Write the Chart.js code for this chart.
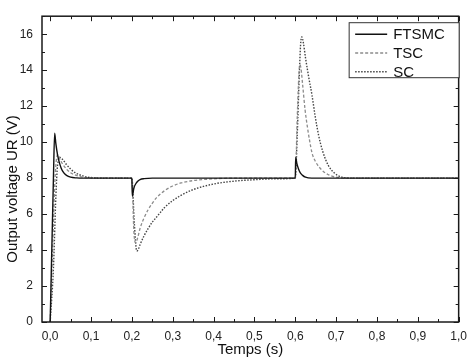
<!DOCTYPE html>
<html>
<head>
<meta charset="utf-8">
<script src="https://cdn.jsdelivr.net/npm/chart.js@4.4.1/dist/chart.umd.min.js"></script>
<style>
  html, body { margin: 0; padding: 0; background: #fff; }
  #wrap { width: 474px; height: 362px; }
</style>
</head>
<body>
<div id="wrap"><canvas id="chart" width="474" height="362"></canvas></div>
<script>
// --- data ---
const seriesLabels = ['FTSMC', 'TSC', 'SC'];

const ftsmcTime = [0, 0.008, 0.011, 0.014, 0.018, 0.022, 0.027, 0.033, 0.04, 0.05, 0.065, 0.08,
  0.2, 0.201, 0.205, 0.21, 0.215, 0.22, 0.23, 0.25,
  0.6, 0.601, 0.604, 0.608, 0.612, 0.618, 0.625, 0.64, 1.0];
const ftsmcVolt = [0, 8.0, 10.5, 9.9, 9.3, 8.9, 8.55, 8.3, 8.15, 8.05, 8.01, 8.0,
  8.0, 7.0, 7.45, 7.7, 7.84, 7.92, 7.97, 8.0,
  8.0, 9.15, 8.8, 8.5, 8.3, 8.15, 8.05, 8.0, 8.0];

const tscTime = [0, 0.006, 0.012, 0.018, 0.025, 0.03, 0.04, 0.05, 0.06, 0.07, 0.08, 0.1,
  0.2, 0.205, 0.209, 0.215, 0.22, 0.23, 0.24, 0.25, 0.26, 0.28, 0.3, 0.32, 0.35, 0.4, 0.45,
  0.6, 0.605, 0.609, 0.611, 0.614, 0.618, 0.624, 0.63, 0.635, 0.641, 0.65, 0.665, 0.68, 0.7, 0.72, 1.0];
const tscVolt = [0, 4.0, 8.0, 9.3, 9.0, 8.8, 8.5, 8.3, 8.18, 8.1, 8.05, 8.01,
  8.0, 5.0, 4.4, 4.75, 5.2, 5.8, 6.25, 6.6, 6.9, 7.3, 7.56, 7.73, 7.86, 7.96, 8.0,
  8.0, 11.5, 13.8, 14.3, 14.1, 13.2, 11.8, 10.8, 10.1, 9.4, 8.9, 8.45, 8.2, 8.05, 8.0, 8.0];

const scTime = [0, 0.008, 0.014, 0.018, 0.024, 0.03, 0.04, 0.05, 0.06, 0.07, 0.08, 0.09, 0.1, 0.12,
  0.2, 0.206, 0.212, 0.216, 0.22, 0.23, 0.24, 0.25, 0.26, 0.28, 0.3, 0.32, 0.35, 0.4, 0.45, 0.5, 0.55,
  0.6, 0.605, 0.61, 0.613, 0.616, 0.62, 0.625, 0.633, 0.641, 0.649, 0.657, 0.667, 0.681, 0.695, 0.714, 0.74, 1.0];
const scVolt = [0, 3.0, 7.0, 8.7, 9.15, 9.05, 8.75, 8.5, 8.32, 8.2, 8.12, 8.06, 8.03, 8.0,
  8.0, 5.5, 3.95, 4.05, 4.3, 4.8, 5.2, 5.55, 5.82, 6.36, 6.75, 7.04, 7.36, 7.67, 7.83, 7.91, 7.96,
  8.0, 10.5, 13.8, 15.4, 15.85, 15.5, 14.7, 13.6, 12.6, 11.4, 10.4, 9.5, 8.7, 8.3, 8.05, 8.0, 8.0];

const xTickValues = [0, 0.1, 0.2, 0.3, 0.4, 0.5, 0.6, 0.7, 0.8, 0.9, 1.0];
const yTickValues = [0, 2, 4, 6, 8, 10, 12, 14, 16];

const FONT = '"Liberation Sans", Arial, sans-serif';
const AXIS_INK = '#1a1a1a';

function toPoints(xs, ys) {
  return xs.map((x, i) => ({ x, y: ys[i] }));
}

// frame + inward major/minor ticks on all four sides (Origin style)
const frameTicks = {
  id: 'frameTicks',
  afterDatasetsDraw(chart) {
    const { ctx, chartArea: a, scales: { x, y } } = chart;
    ctx.save();
    ctx.strokeStyle = AXIS_INK;
    ctx.lineWidth = 1;
    ctx.beginPath();
    const tick = (px, py, dx, dy) => { ctx.moveTo(px, py); ctx.lineTo(px + dx, py + dy); };
    xTickValues.forEach((v, i) => {
      const px = Math.round(x.getPixelForValue(v)) + 0.5;
      tick(px, a.bottom, 0, -5);
      tick(px, a.top, 0, 5);
      if (i < xTickValues.length - 1) {
        const pm = Math.round(x.getPixelForValue((v + xTickValues[i + 1]) / 2)) + 0.5;
        tick(pm, a.bottom, 0, -3);
        tick(pm, a.top, 0, 3);
      }
    });
    yTickValues.forEach((v, i) => {
      const py = Math.round(y.getPixelForValue(v)) + 0.5;
      tick(a.left, py, 5, 0);
      tick(a.right, py, -5, 0);
      const pm = Math.round(y.getPixelForValue(v + 1)) + 0.5;
      tick(a.left, pm, 3, 0);
      tick(a.right, pm, -3, 0);
    });
    ctx.stroke();
    ctx.lineWidth = 1.5;
    ctx.strokeRect(a.left, a.top, a.right - a.left, a.bottom - a.top);

    // y axis title (sits a little below the plot centre in the original)
    ctx.fillStyle = '#111';
    ctx.font = '15px ' + FONT;
    ctx.textAlign = 'center';
    ctx.textBaseline = 'middle';
    ctx.translate(12.5, 189);
    ctx.rotate(-Math.PI / 2);
    ctx.fillText('Output voltage UR (V)', 0, 0);
    ctx.restore();
  },
};

// boxed legend in the upper right corner of the plot
const boxLegend = {
  id: 'boxLegend',
  afterDraw(chart) {
    const { ctx, chartArea: a } = chart;
    const boxW = 110, boxH = 55;
    const bx = a.right - boxW + 0.5, by = a.top + 6.5;
    ctx.save();
    ctx.fillStyle = '#fff';
    ctx.fillRect(bx, by, boxW, boxH);
    ctx.strokeStyle = '#333';
    ctx.lineWidth = 1;
    ctx.strokeRect(bx, by, boxW, boxH);
    ctx.font = '15px ' + FONT;
    ctx.textBaseline = 'middle';
    ctx.textAlign = 'left';
    chart.data.datasets.forEach((ds, i) => {
      const ry = by + 11.5 + i * 18.8;
      ctx.strokeStyle = ds.borderColor;
      ctx.lineWidth = ds.borderWidth;
      ctx.setLineDash(ds.borderDash || []);
      ctx.beginPath();
      ctx.moveTo(bx + 6, ry);
      ctx.lineTo(bx + 38, ry);
      ctx.stroke();
      ctx.setLineDash([]);
      ctx.fillStyle = '#111';
      ctx.fillText(ds.label, bx + 44, ry + 1);
    });
    ctx.restore();
  },
};

const fmtComma = (v) => v.toFixed(1).replace('.', ',');

new Chart(document.getElementById('chart'), {
  type: 'line',
  data: {
    datasets: [
      {
        label: seriesLabels[0],
        data: toPoints(ftsmcTime, ftsmcVolt),
        borderColor: '#111',
        borderWidth: 1.4,
      },
      {
        label: seriesLabels[1],
        data: toPoints(tscTime, tscVolt),
        borderColor: '#8c8c8c',
        borderWidth: 1.3,
        borderDash: [3, 2],
      },
      {
        label: seriesLabels[2],
        data: toPoints(scTime, scVolt),
        borderColor: '#444',
        borderWidth: 1.4,
        borderDash: [1.5, 1.5],
      },
    ],
  },
  options: {
    responsive: false,
    animation: false,
    devicePixelRatio: 1,
    layout: { padding: { left: 0, top: 15, right: 13, bottom: 0 } },
    elements: {
      point: { radius: 0 },
      line: { cubicInterpolationMode: 'monotone', fill: false },
    },
    plugins: {
      legend: { display: false },
      tooltip: { enabled: false },
    },
    scales: {
      x: {
        type: 'linear',
        min: -0.02,
        max: 1.0,
        afterFit: (s) => { s.height = 40; },
        afterBuildTicks: (s) => { s.ticks = xTickValues.map((v) => ({ value: v })); },
        grid: { display: false, drawTicks: false },
        border: { display: false },
        ticks: {
          color: '#222',
          padding: 7,
          maxRotation: 0,
          autoSkip: false,
          font: { family: FONT, size: 12 },
          callback: (v) => fmtComma(v),
        },
        title: {
          display: true,
          text: 'Temps (s)',
          color: '#111',
          font: { family: FONT, size: 15 },
          padding: { top: 0, bottom: 3 },
        },
      },
      y: {
        type: 'linear',
        min: 0,
        max: 17,
        afterFit: (s) => { s.width = 42; },
        afterBuildTicks: (s) => { s.ticks = yTickValues.map((v) => ({ value: v })); },
        grid: { display: false, drawTicks: false },
        border: { display: false },
        ticks: {
          color: '#222',
          padding: 9,
          autoSkip: false,
          font: { family: FONT, size: 12 },
        },
      },
    },
  },
  plugins: [frameTicks, boxLegend],
});
</script>
</body>
</html>
